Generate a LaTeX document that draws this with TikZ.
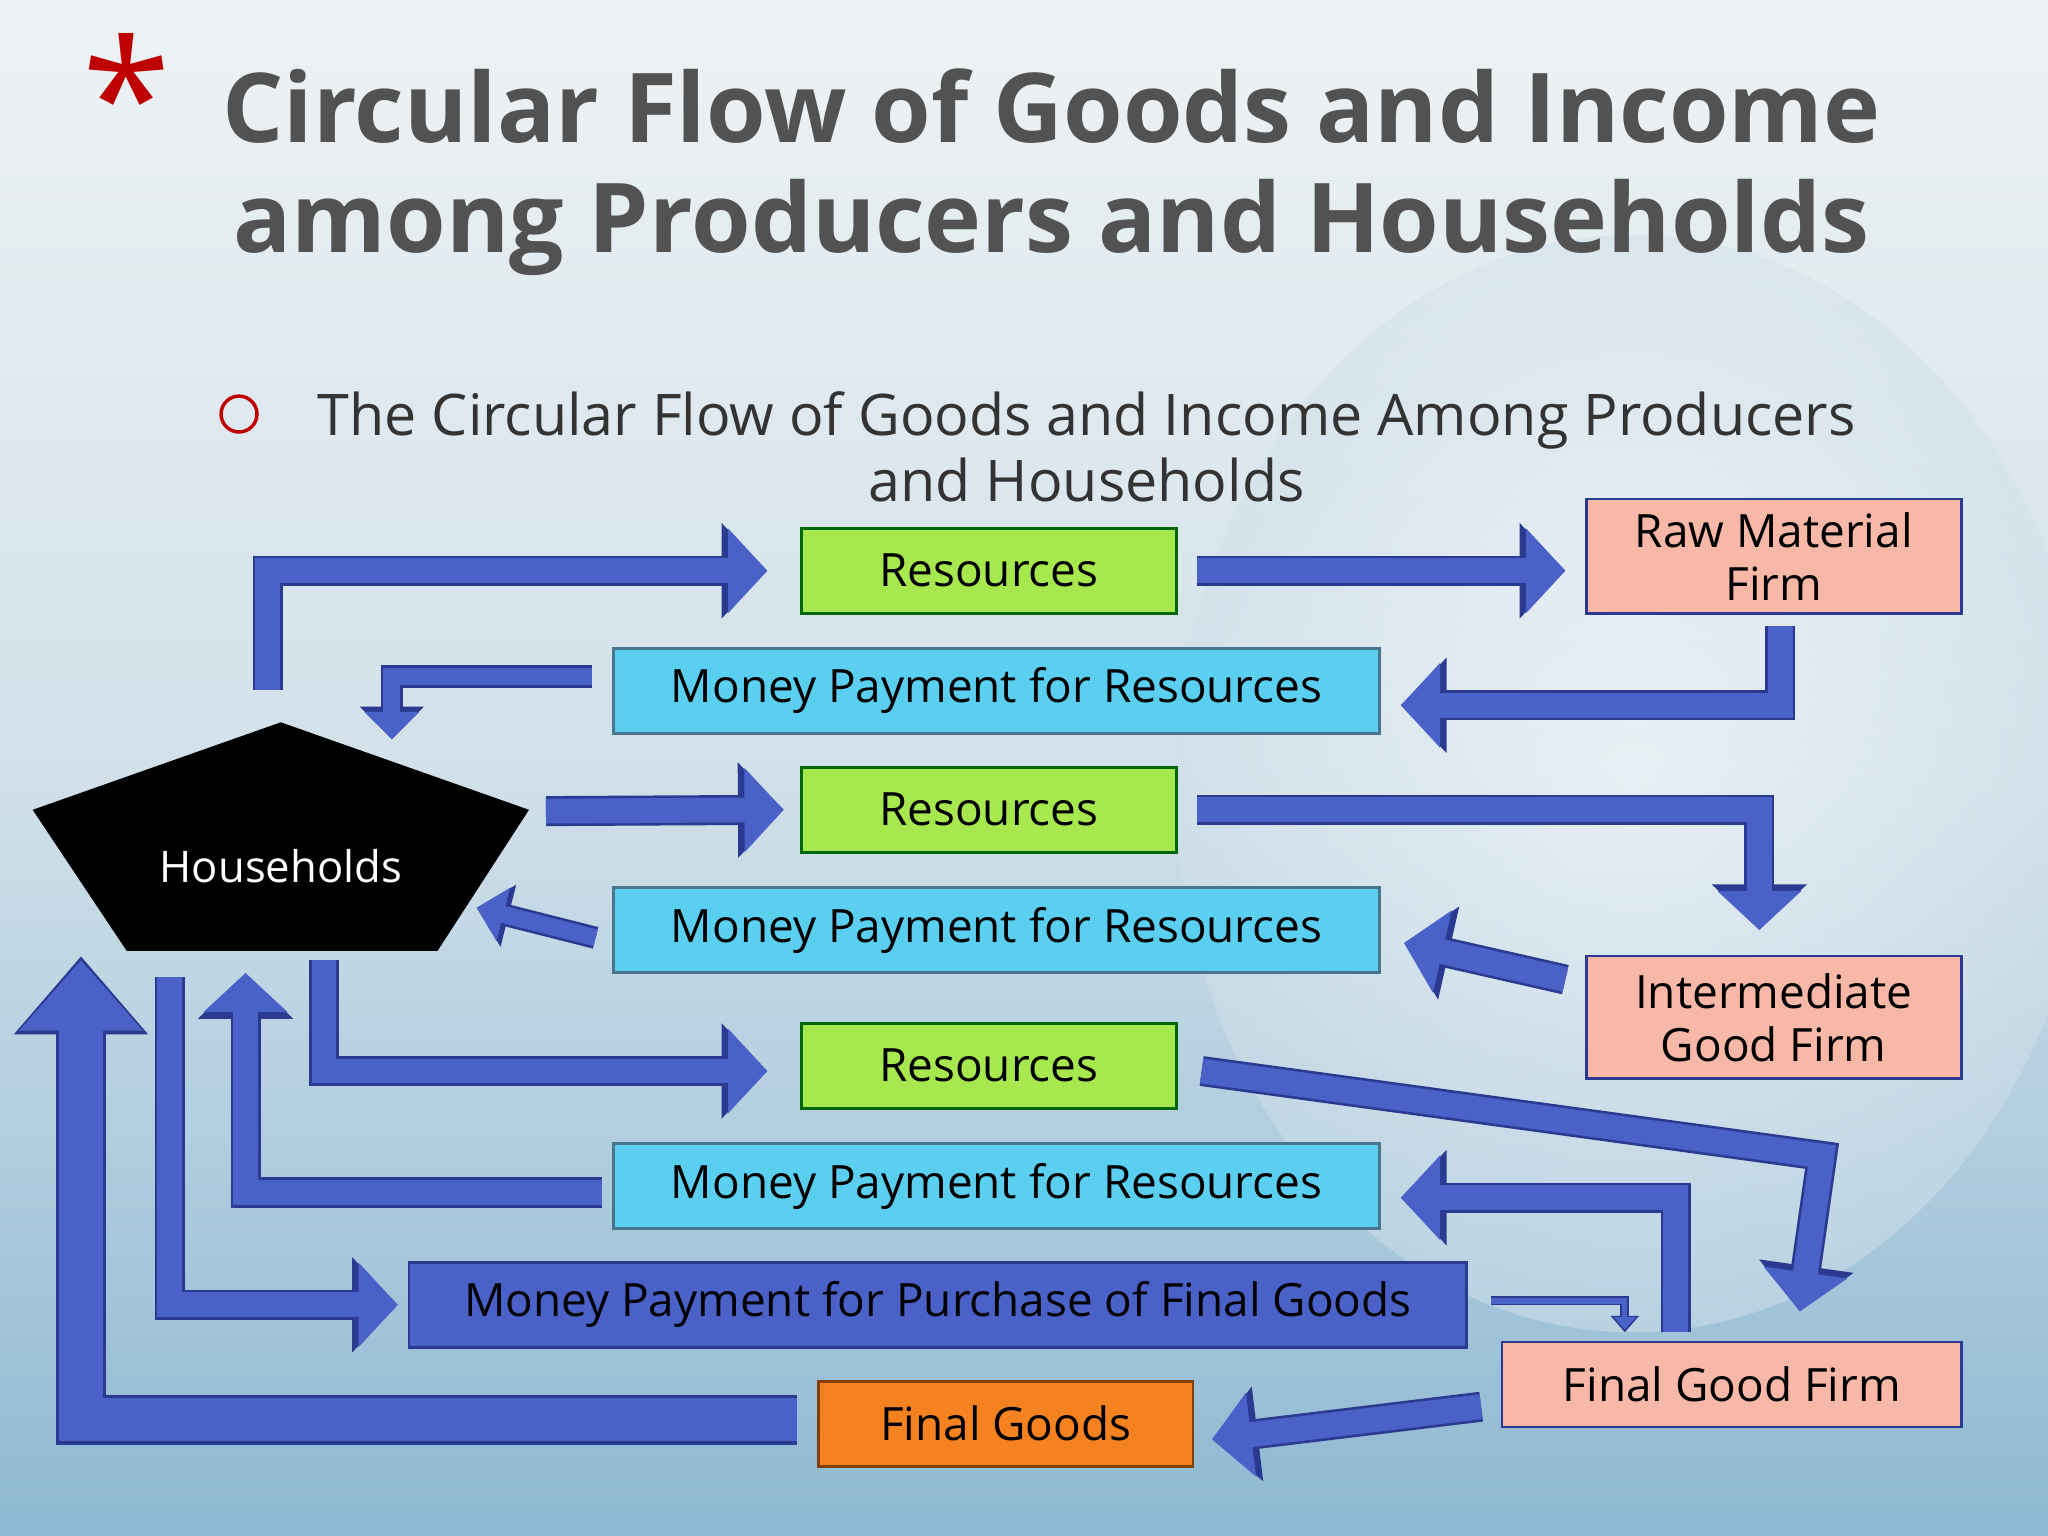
\documentclass[tikz,border=0pt]{standalone}
\usepackage{fontspec}
\setmainfont{Open Sans}
\usetikzlibrary{arrows.meta}
\definecolor{arrin}{HTML}{4A62C8}
\definecolor{arrout}{HTML}{2A3A90}
\definecolor{resg}{HTML}{A6E84E}
\definecolor{monc}{HTML}{5BCFF0}
\definecolor{firm}{HTML}{F8B8A8}
\definecolor{fgo}{HTML}{F58220}
\definecolor{bgtop}{HTML}{EEF2F4}
\definecolor{bgbot}{HTML}{8EB8D2}
\tikzset{
 box/.style={draw, line width=1.2pt, minimum height=1.3cm, font=\fontsize{20}{22}\selectfont, text=black, inner sep=2pt, align=center},
 resbox/.style={box, fill=resg, draw=green!40!black, minimum width=5.74cm},
 monbox/.style={box, fill=monc, draw=cyan!50!black, minimum width=11.74cm},
 firmbox/.style={box, fill=firm, draw=arrout, minimum width=5.74cm, font=\fontsize{20}{23}\selectfont},
 barout/.style={draw=arrout, line width=0.46cm, line join=miter, -{Triangle[width=1.42cm,length=0.7cm]}},
 barin/.style={draw=arrin, line width=0.38cm, line join=miter, -{Triangle[width=1.26cm,length=0.6cm]}},
 sbarout/.style={draw=arrout, line width=0.34cm, line join=miter, -{Triangle[width=0.95cm,length=0.5cm]}},
 sbarin/.style={draw=arrin, line width=0.26cm, line join=miter, -{Triangle[width=0.82cm,length=0.42cm]}},
}
\newcommand\barrow[1]{\path[barout] #1; \path[barin] #1;}
\newcommand\sbarrow[1]{\path[sbarout] #1; \path[sbarin] #1;}
\begin{document}
\begin{tikzpicture}[x=0.02cm,y=-0.02cm]
\useasboundingbox (0,0) rectangle (1568,1176);
\shade[top color=bgtop, bottom color=bgbot, middle color=bgtop!70!bgbot] (0,0) rectangle (1568,1176);
\shade[inner color=white, outer color=bgtop!70!bgbot, opacity=0.5] (1250,600) ellipse [x radius=350,y radius=420];
% title
\node[text=red!75!black, font=\fontsize{70}{70}\selectfont] (star) at (97,72) {*};
\node[text=black!68, font=\bfseries\fontsize{42}{48}\selectfont, align=center] (title) at (805,132) {Circular Flow of Goods and Income\\among Producers and Households};
\node[text=black!80, font=\fontsize{25}{29}\selectfont, align=center] (sub) at (832,342) {The Circular Flow of Goods and Income Among Producers\\and Households};
\node[draw=red!75!black, circle, line width=1.5pt, minimum size=0.55cm] (bul) at (183,317) {};
% households
\fill[black] (215,553) -- (405,620) -- (335,728) -- (97,728) -- (25,620) -- cycle;
\node[text=white, font=\fontsize{19}{21}\selectfont] (hh) at (215,663) {Households};
% boxes
\node[resbox] (r1) at (757,437) {Resources};
\node[firmbox, minimum height=1.76cm] (raw) at (1358,426) {Raw Material\\Firm};
\node[monbox] (m1) at (763,529) {Money Payment for Resources};
\node[resbox] (r2) at (757,620) {Resources};
\node[monbox] (m2) at (763,712) {Money Payment for Resources};
\node[firmbox, minimum height=1.88cm] (inter) at (1358,779) {Intermediate\\Good Firm};
\node[resbox] (r3) at (757,816) {Resources};
\node[monbox] (m3) at (763,908) {Money Payment for Resources};
\node[box, fill=arrin, draw=arrout, minimum width=16.2cm] (mp) at (718,999) {Money Payment for Purchase of Final Goods};
\node[firmbox, minimum width=7.04cm] (fgf) at (1326,1060) {Final Good Firm};
\node[box, fill=fgo, draw=orange!50!black, minimum width=5.74cm] (fg) at (770,1090) {Final Goods};
% arrows
\coordinate (a1) at (205,528);
\barrow{(a1) |- ([xshift=-0.5cm]r1.west)}
\barrow{([xshift=0.3cm]r1.east) -- ([xshift=-0.3cm]raw.west |- r1.east)}
\barrow{([xshift=0.1cm]raw.south) ++(0,8) |- ([xshift=0.3cm]m1.east |- 0,540)}
\coordinate (a4) at (300,566);
\sbarrow{([xshift=-0.3cm]m1.west |- 0,518) -| (a4)}
\barrow{(418,621) -- ([xshift=-0.25cm]r2.west)}
\barrow{([xshift=0.3cm]r2.east) -| (1347,712)}
\sbarrow{([xshift=-0.25cm]m2.west |- 0,718) -- (365,695)}
\barrow{([xshift=-0.3cm]inter.west |- 0,750) -- (1075,722)}
\barrow{(248,735) |- ([xshift=-0.5cm]r3.west |- 0,820)}
\barrow{(920,820) -- (1395,885) -- (1378,1004)}
\barrow{([xshift=-0.15cm]m3.west |- 0,913) -| (188,745)}
\barrow{(1283,1020) |- ([xshift=0.3cm]m3.east |- 0,917)}
\barrow{(130,748) |- ([xshift=-0.15cm]mp.west)}
\path[draw=arrout, line width=0.14cm, -{Triangle[width=0.42cm,length=0.25cm]}] ([xshift=0.35cm]mp.east |- 0,996) -| (1244,1020);
\path[draw=arrin, line width=0.08cm, -{Triangle[width=0.32cm,length=0.19cm]}] ([xshift=0.35cm]mp.east |- 0,996) -| (1244,1018);
\barrow{([xshift=-0.3cm]fgf.west |- 0,1077) -- (928,1102)}
\path[draw=arrout, line width=0.76cm, line join=miter, -{Triangle[width=1.98cm,length=1.2cm]}] ([xshift=-0.3cm]fg.west |- 0,1087) -| (62,732);
\path[draw=arrin, line width=0.66cm, line join=miter, -{Triangle[width=1.82cm,length=1.08cm]}] ([xshift=-0.3cm]fg.west |- 0,1087) -| (62,735);
\end{tikzpicture}
\end{document}
